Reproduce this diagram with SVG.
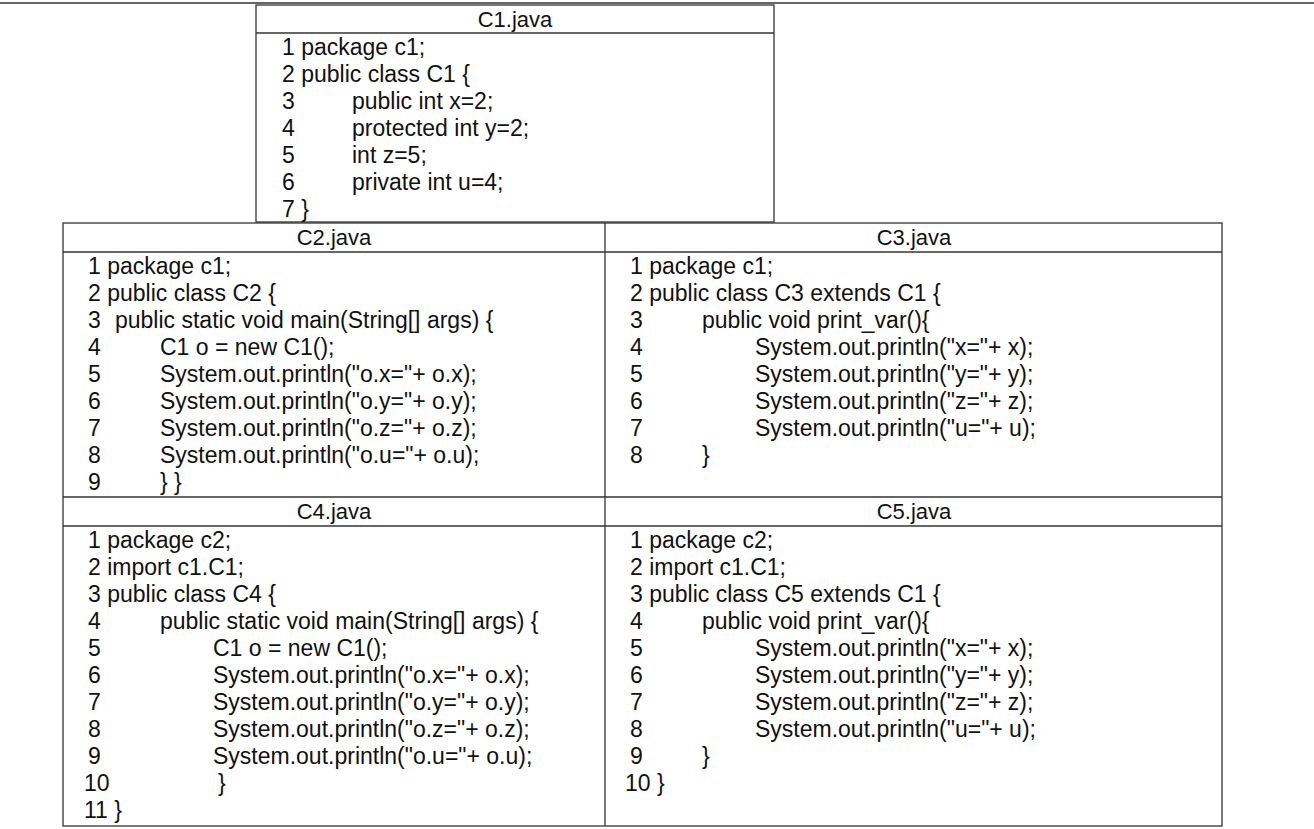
<svg xmlns="http://www.w3.org/2000/svg" width="1314" height="829" viewBox="0 0 1314 829">
<style>
text{font-family:"Liberation Sans",Arial,sans-serif;font-size:23px;fill:#111}
.h{text-anchor:middle;font-size:22px}
line,.b{stroke:#333;stroke-width:1.3;fill:none}
</style>
<rect x="0" y="0" width="1314" height="829" fill="#fff"/>
<line x1="0" y1="3" x2="1314" y2="3" stroke="#ccc"/>
<g id="C1">
<rect class="b" x="256" y="5" width="518" height="217"/>
<line x1="256" y1="33" x2="774" y2="33"/>
<text class="h" x="515" y="27">C1.java</text>
<text x="282" y="55">1 package c1;</text>
<text x="282" y="82">2 public class C1 {</text>
<text x="282" y="109">3</text><text x="352" y="109">public int x=2;</text>
<text x="282" y="136">4</text><text x="352" y="136">protected int y=2;</text>
<text x="282" y="163">5</text><text x="352" y="163">int z=5;</text>
<text x="282" y="190">6</text><text x="352" y="190">private int u=4;</text>
<text x="282" y="217">7 }</text>
</g>
<g id="table">
<rect class="b" x="63" y="223" width="1159" height="603"/>
<line x1="605" y1="223" x2="605" y2="826"/>
<line x1="63" y1="252" x2="1222" y2="252"/>
<line x1="63" y1="497" x2="1222" y2="497"/>
<line x1="63" y1="526" x2="1222" y2="526"/>
</g>
<g id="C2">
<text class="h" x="334" y="245">C2.java</text>
<text x="88" y="274">1 package c1;</text>
<text x="88" y="301">2 public class C2 {</text>
<text x="88" y="328">3</text><text x="115" y="328">public static void main(String[] args) {</text>
<text x="88" y="355">4</text><text x="160" y="355">C1 o = new C1();</text>
<text x="88" y="382">5</text><text x="160" y="382">System.out.println("o.x="+ o.x);</text>
<text x="88" y="409">6</text><text x="160" y="409">System.out.println("o.y="+ o.y);</text>
<text x="88" y="436">7</text><text x="160" y="436">System.out.println("o.z="+ o.z);</text>
<text x="88" y="463">8</text><text x="160" y="463">System.out.println("o.u="+ o.u);</text>
<text x="88" y="490">9</text><text x="160" y="490">}  }</text>
</g>
<g id="C3">
<text class="h" x="914" y="245">C3.java</text>
<text x="630" y="274">1 package c1;</text>
<text x="630" y="301">2 public class C3 extends C1 {</text>
<text x="630" y="328">3</text><text x="702" y="328">public void print_var(){</text>
<text x="630" y="355">4</text><text x="755" y="355">System.out.println("x="+ x);</text>
<text x="630" y="382">5</text><text x="755" y="382">System.out.println("y="+ y);</text>
<text x="630" y="409">6</text><text x="755" y="409">System.out.println("z="+ z);</text>
<text x="630" y="436">7</text><text x="755" y="436">System.out.println("u="+ u);</text>
<text x="630" y="463">8</text><text x="702" y="463">}</text>
</g>
<g id="C4">
<text class="h" x="334" y="519">C4.java</text>
<text x="88" y="548">1 package c2;</text>
<text x="88" y="575">2 import c1.C1;</text>
<text x="88" y="602">3 public class C4 {</text>
<text x="88" y="629">4</text><text x="160" y="629">public static void main(String[] args) {</text>
<text x="88" y="656">5</text><text x="213" y="656">C1 o = new C1();</text>
<text x="88" y="683">6</text><text x="213" y="683">System.out.println("o.x="+ o.x);</text>
<text x="88" y="710">7</text><text x="213" y="710">System.out.println("o.y="+ o.y);</text>
<text x="88" y="737">8</text><text x="213" y="737">System.out.println("o.z="+ o.z);</text>
<text x="88" y="764">9</text><text x="213" y="764">System.out.println("o.u="+ o.u);</text>
<text x="84" y="791">10</text><text x="218" y="791">}</text>
<text x="84" y="818">11  }</text>
</g>
<g id="C5">
<text class="h" x="914" y="519">C5.java</text>
<text x="630" y="548">1 package c2;</text>
<text x="630" y="575">2 import c1.C1;</text>
<text x="630" y="602">3 public class C5 extends C1 {</text>
<text x="630" y="629">4</text><text x="702" y="629">public void print_var(){</text>
<text x="630" y="656">5</text><text x="755" y="656">System.out.println("x="+ x);</text>
<text x="630" y="683">6</text><text x="755" y="683">System.out.println("y="+ y);</text>
<text x="630" y="710">7</text><text x="755" y="710">System.out.println("z="+ z);</text>
<text x="630" y="737">8</text><text x="755" y="737">System.out.println("u="+ u);</text>
<text x="630" y="764">9</text><text x="702" y="764">}</text>
<text x="625" y="791">10 }</text>
</g>
</svg>
